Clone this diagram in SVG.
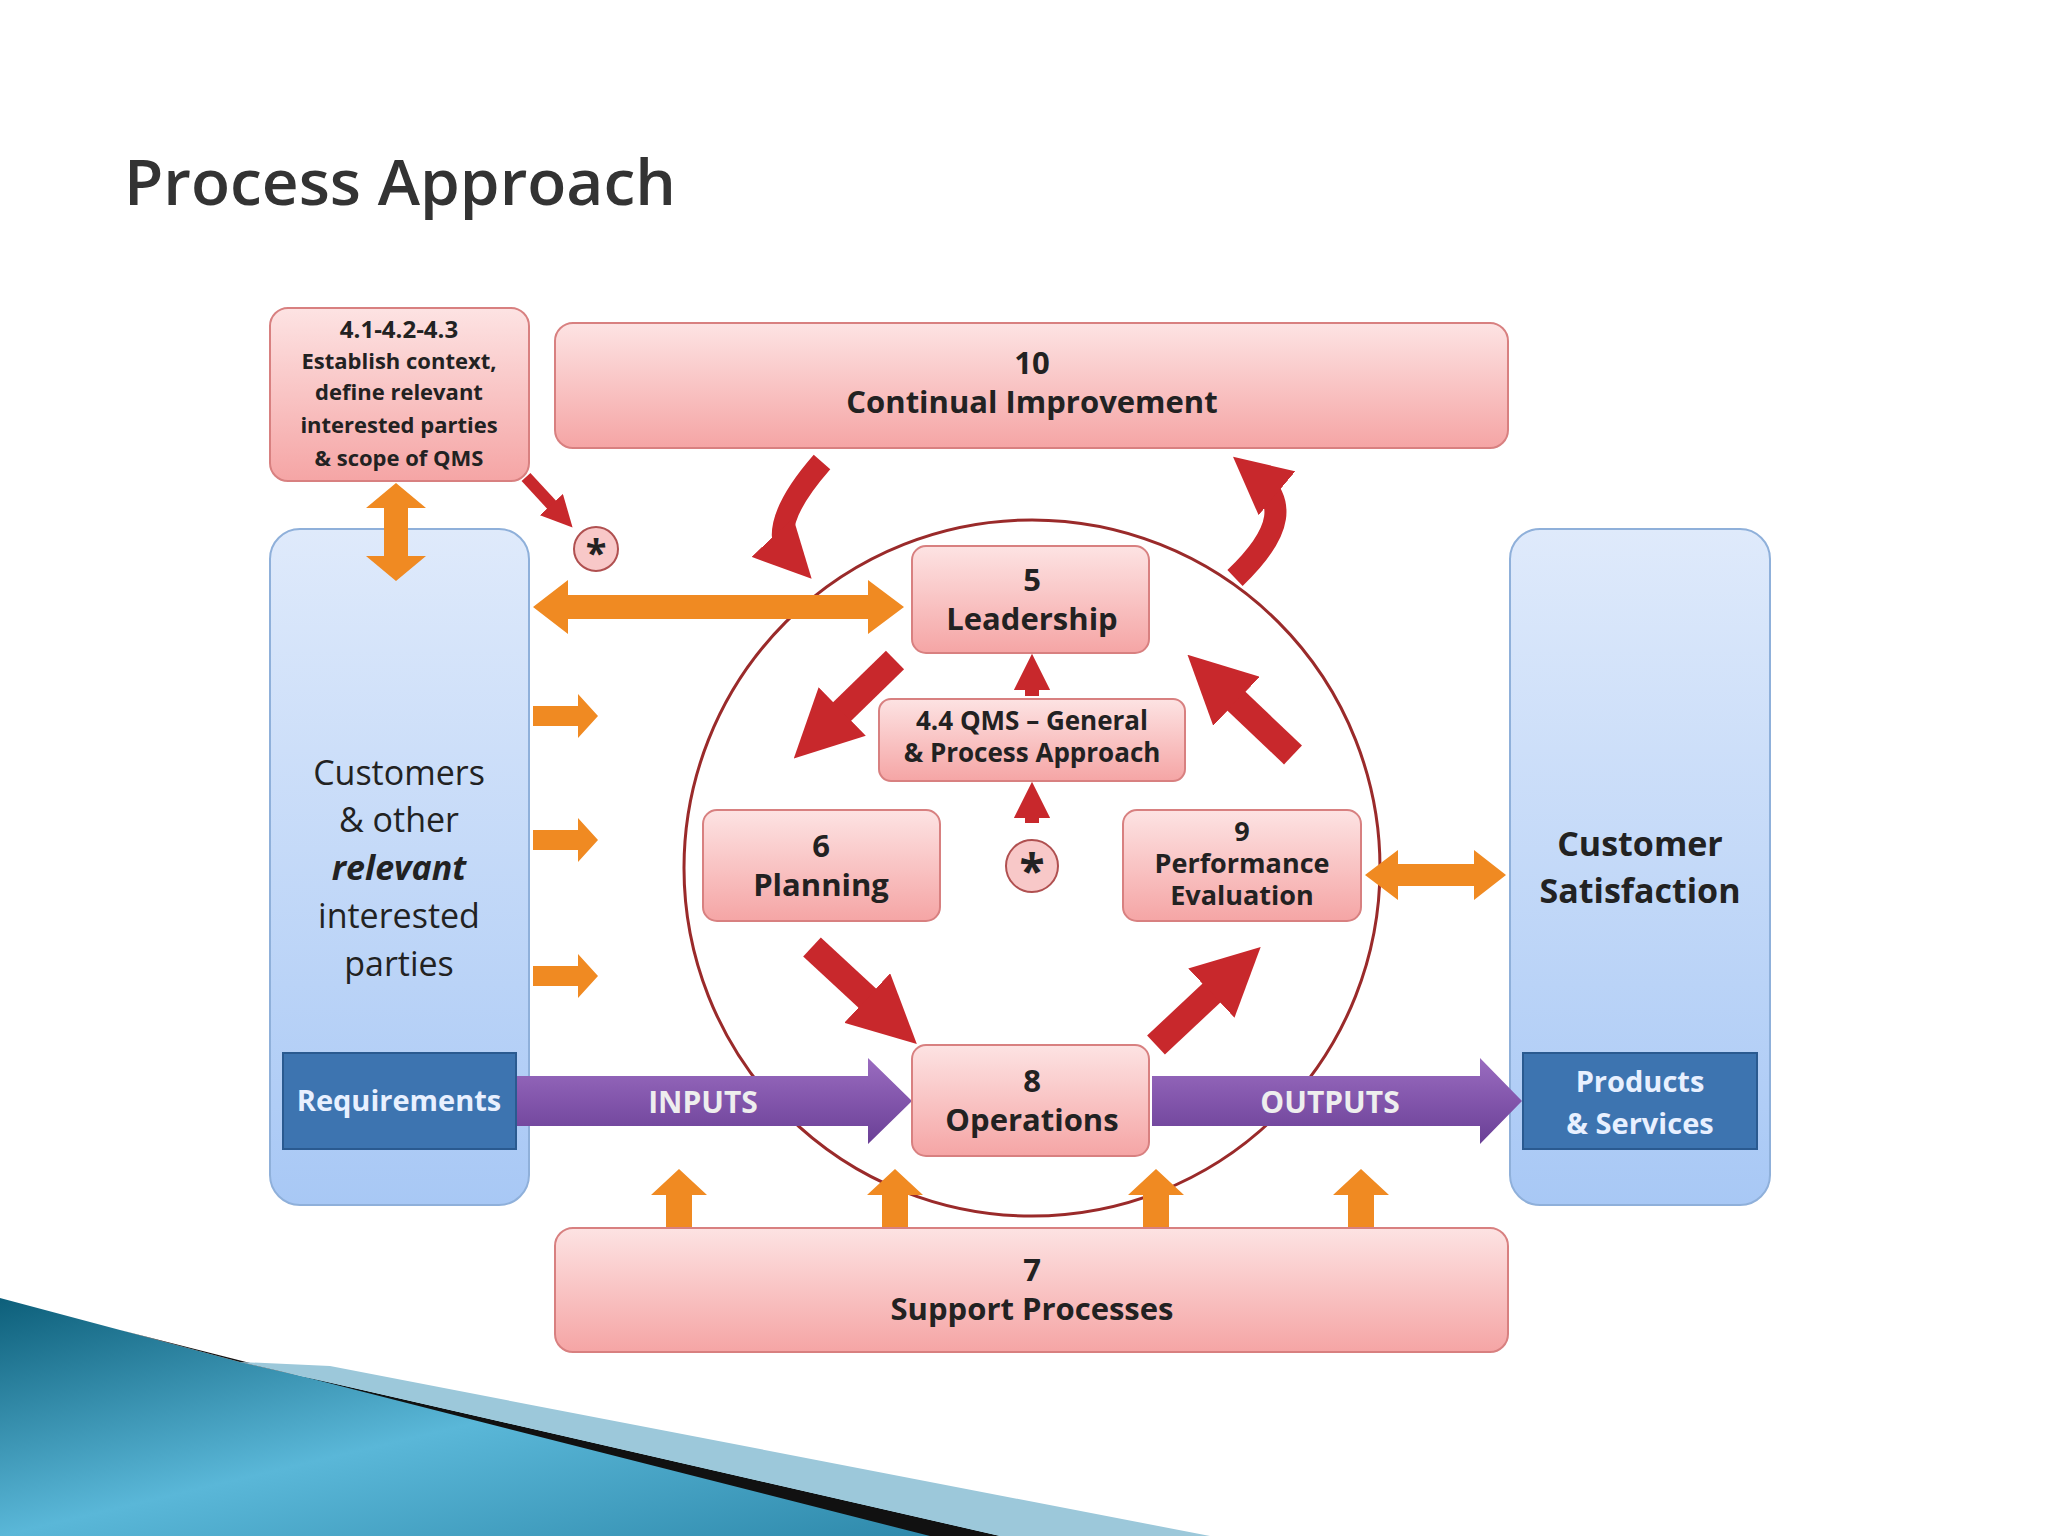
<svg xmlns="http://www.w3.org/2000/svg" width="2048" height="1536" viewBox="0 0 2048 1536">
<defs>
<linearGradient id="pk" x1="0" y1="0" x2="0" y2="1"><stop offset="0" stop-color="#fde3e3"/><stop offset="1" stop-color="#f5a5a5"/></linearGradient>
<linearGradient id="bl" x1="0" y1="0" x2="0" y2="1"><stop offset="0" stop-color="#dfeafb"/><stop offset="1" stop-color="#a8c8f5"/></linearGradient>
<linearGradient id="pu" x1="0" y1="0" x2="0" y2="1"><stop offset="0" stop-color="#9a6cc0"/><stop offset="1" stop-color="#6a3f96"/></linearGradient>
<linearGradient id="sea" x1="0" y1="0" x2="1" y2="1"><stop offset="0" stop-color="#0d5f7a"/><stop offset="0.5" stop-color="#5ab7d8"/><stop offset="1" stop-color="#2b86a8"/></linearGradient>
<marker id="rh" viewBox="0 0 10 10" refX="5" refY="5" markerWidth="2.6" markerHeight="2.6" orient="auto"><path d="M0,0L10,5L0,10z" fill="#c8282c"/></marker>
</defs>
<style>
.pk{fill:url(#pk);stroke:#d88080;stroke-width:2}
.bl{fill:url(#bl);stroke:#8fb0da;stroke-width:2}
.t{font-family:"Open Sans","DejaVu Sans",sans-serif;font-weight:bold;fill:#222;text-anchor:middle}
.or{fill:#f08a22}
.rd{stroke:#c8282c;fill:none;marker-end:url(#rh)}
</style>
<rect width="2048" height="1536" fill="#fff"/>
<text x="124" y="205" font-family="'Open Sans','DejaVu Sans',sans-serif" font-weight="600" font-size="64" fill="#333">Process Approach</text>

<g id="bluebox-left"><rect class="bl" x="270" y="529" width="259" height="676" rx="30"/>
<text class="t" font-size="34" style="font-weight:normal"><tspan x="399" y="785">Customers</tspan><tspan x="399" y="832">&amp; other</tspan><tspan x="399" y="880" font-weight="bold" font-style="italic">relevant</tspan><tspan x="399" y="928">interested</tspan><tspan x="399" y="976">parties</tspan></text></g>
<g id="bluebox-right"><rect class="bl" x="1510" y="529" width="260" height="676" rx="30"/>
<text class="t" font-size="34"><tspan x="1640" y="856">Customer</tspan><tspan x="1640" y="903">Satisfaction</tspan></text></g>

<g id="circle"><circle cx="1032" cy="868" r="348" fill="none" stroke="#9a2a2a" stroke-width="3"/></g>

<g id="connectors">
<polygon class="or" points="396,483 426,508 408,508 408,556 426,556 396,581 366,556 384,556 384,508 366,508"/>
<polygon class="or" points="533,607 568,580 568,595 868,595 868,580 904,607 868,634 868,619 568,619 568,634"/>
<polygon class="or" points="533,706 578,706 578,694 598,716 578,738 578,726 533,726"/>
<polygon class="or" points="533,830 578,830 578,818 598,840 578,862 578,850 533,850"/>
<polygon class="or" points="533,966 578,966 578,954 598,976 578,998 578,986 533,986"/>
<polygon class="or" points="1365,875 1398,850 1398,864 1474,864 1474,850 1506,875 1474,900 1474,886 1398,886 1398,900"/>
<g class="or">
<polygon points="679,1169 707,1195 692,1195 692,1228 666,1228 666,1195 651,1195"/>
<polygon points="895,1169 923,1195 908,1195 908,1228 882,1228 882,1195 867,1195"/>
<polygon points="1156,1169 1184,1195 1169,1195 1169,1228 1143,1228 1143,1195 1128,1195"/>
<polygon points="1361,1169 1389,1195 1374,1195 1374,1228 1348,1228 1348,1195 1333,1195"/>
</g>
<polygon fill="url(#pu)" points="516,1076 868,1076 868,1058 912,1101 868,1144 868,1126 516,1126"/>
<polygon fill="url(#pu)" points="1152,1076 1480,1076 1480,1058 1522,1101 1480,1144 1480,1126 1152,1126"/>
<text x="703" y="1113" font-family="'Open Sans',sans-serif" font-weight="bold" font-size="30" fill="#eee" text-anchor="middle">INPUTS</text>
<text x="1330" y="1113" font-family="'Open Sans',sans-serif" font-weight="bold" font-size="30" fill="#eee" text-anchor="middle">OUTPUTS</text>
<line class="rd" x1="895" y1="660" x2="818" y2="735" stroke-width="26"/>
<line class="rd" x1="812" y1="947" x2="892" y2="1021" stroke-width="26"/>
<line class="rd" x1="1156" y1="1045" x2="1236" y2="970" stroke-width="26"/>
<line class="rd" x1="1293" y1="755" x2="1212" y2="678" stroke-width="26"/>
<line class="rd" x1="1032" y1="696" x2="1032" y2="672" stroke-width="14"/>
<line class="rd" x1="1032" y1="823" x2="1032" y2="800" stroke-width="14"/>
<line class="rd" x1="526" y1="477" x2="562" y2="516" stroke-width="12"/>
<path class="rd" d="M822,462 C780,510 775,540 792,558" stroke-width="22"/>
<path class="rd" d="M1235,578 C1285,530 1285,500 1255,475" stroke-width="22"/>
</g>

<g id="ctx"><rect class="pk" x="270" y="308" width="259" height="173" rx="18"/>
<text class="t" font-size="24"><tspan x="399" y="338">4.1-4.2-4.3</tspan><tspan x="399" y="369" font-size="22">Establish context,</tspan><tspan x="399" y="400" font-size="22">define relevant</tspan><tspan x="399" y="433" font-size="22">interested parties</tspan><tspan x="399" y="466" font-size="22">&amp; scope of QMS</tspan></text></g>
<g id="ci"><rect class="pk" x="555" y="323" width="953" height="125" rx="18"/>
<text class="t" font-size="31"><tspan x="1032" y="374">10</tspan><tspan x="1032" y="413">Continual Improvement</tspan></text></g>
<g id="lead"><rect class="pk" x="912" y="546" width="237" height="107" rx="14"/>
<text class="t" font-size="31"><tspan x="1032" y="591">5</tspan><tspan x="1032" y="630">Leadership</tspan></text></g>
<g id="qms"><rect class="pk" x="879" y="699" width="306" height="82" rx="12"/>
<text class="t" font-size="26"><tspan x="1032" y="730">4.4   QMS – General</tspan><tspan x="1032" y="762">&amp; Process Approach</tspan></text></g>
<g id="plan"><rect class="pk" x="703" y="810" width="237" height="111" rx="14"/>
<text class="t" font-size="31"><tspan x="821" y="857">6</tspan><tspan x="821" y="896">Planning</tspan></text></g>
<g id="perf"><rect class="pk" x="1123" y="810" width="238" height="111" rx="14"/>
<text class="t" font-size="27"><tspan x="1242" y="841">9</tspan><tspan x="1242" y="873">Performance</tspan><tspan x="1242" y="905">Evaluation</tspan></text></g>
<g id="ops"><rect class="pk" x="912" y="1045" width="237" height="111" rx="14"/>
<text class="t" font-size="31"><tspan x="1032" y="1092">8</tspan><tspan x="1032" y="1131">Operations</tspan></text></g>
<g id="sup"><rect class="pk" x="555" y="1228" width="953" height="124" rx="18"/>
<text class="t" font-size="31"><tspan x="1032" y="1281">7</tspan><tspan x="1032" y="1320">Support Processes</tspan></text></g>
<g id="req"><rect x="283" y="1053" width="233" height="96" fill="#3d74b0" stroke="#2a5a90" stroke-width="2"/>
<text class="t" font-size="29" style="fill:#e8f0ff" x="399" y="1111">Requirements</text></g>
<g id="prod"><rect x="1523" y="1053" width="234" height="96" fill="#3d74b0" stroke="#2a5a90" stroke-width="2"/>
<text class="t" font-size="29" style="fill:#e8f0ff"><tspan x="1640" y="1092">Products</tspan><tspan x="1640" y="1134">&amp; Services</tspan></text></g>
<g id="ast1"><circle cx="596" cy="549" r="22" fill="#f8c8c8" stroke="#b05050" stroke-width="2"/><text class="t" font-size="38" x="596" y="567">*</text></g>
<g id="ast2"><circle cx="1032" cy="866" r="26" fill="#f8c8c8" stroke="#b05050" stroke-width="2"/><text class="t" font-size="46" x="1032" y="888">*</text></g>

<g id="deco">
<polygon fill="url(#sea)" points="0,1298 240,1362 1000,1536 0,1536"/>
<polygon fill="#111" points="120,1330 240,1362 1000,1536 930,1536"/>
<polygon fill="#9cc8da" points="240,1362 330,1366 1210,1536 1000,1536"/>
</g>
</svg>
